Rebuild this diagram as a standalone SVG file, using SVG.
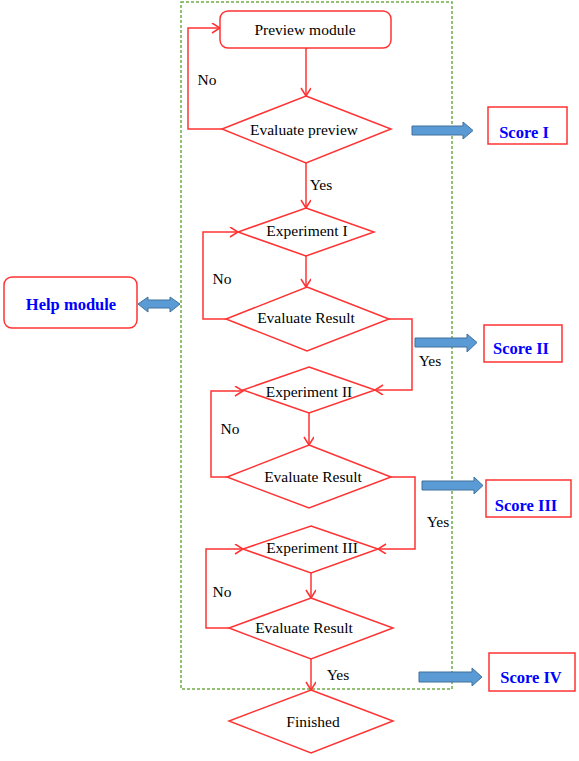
<svg xmlns="http://www.w3.org/2000/svg" width="579" height="761" viewBox="0 0 579 761">
<defs>
<style>
.n{fill:#fff;stroke:#ff3333;stroke-width:1.5}
.c{fill:none;stroke:#ff3333;stroke-width:1.5}
.t{font-family:"Liberation Serif","Times New Roman",serif;font-size:15.5px;fill:#000;text-anchor:middle}
.b{font-family:"Liberation Serif","Times New Roman",serif;font-size:16.5px;font-weight:bold;fill:#0000ff;text-anchor:middle}
.ba{fill:#5b9bd5;stroke:#41719c;stroke-width:1}
</style>
<marker id="ah" markerWidth="12" markerHeight="12" refX="9" refY="5" orient="auto" markerUnits="userSpaceOnUse">
<path d="M1,0 L9,5 L1,10" fill="none" stroke="#ff3333" stroke-width="1.5"/>
</marker>
</defs>
<rect width="579" height="761" fill="#fff"/>
<rect id="frame" x="181" y="2" width="271" height="687" fill="none" stroke="#70ad47" stroke-width="1.5" stroke-dasharray="3,2"/>

<g id="connectors">
<path class="c" d="M306,48 V96" marker-end="url(#ah)"/>
<path class="c" d="M222,129 H188 V28 H220" marker-end="url(#ah)"/>
<path class="c" d="M306,163 V208" marker-end="url(#ah)"/>
<path class="c" d="M306,256 V287" marker-end="url(#ah)"/>
<path class="c" d="M226,319 H203 V232 H238" marker-end="url(#ah)"/>
<path class="c" d="M389,319 H412 V390 H375" marker-end="url(#ah)"/>
<path class="c" d="M309,413 V445" marker-end="url(#ah)"/>
<path class="c" d="M227,477 H211 V391 H243" marker-end="url(#ah)"/>
<path class="c" d="M391,477 H415 V549 H378" marker-end="url(#ah)"/>
<path class="c" d="M311,573 V598" marker-end="url(#ah)"/>
<path class="c" d="M229,628 H206 V549 H243" marker-end="url(#ah)"/>
<path class="c" d="M311,659 V690" marker-end="url(#ah)"/>
<path class="ba" d="M138,304 L148,297 V300 H170 V297 L180,304 L170,312 V308 H148 V312 Z"/>
<path class="ba" d="M412,126 H463 V122 L473,130.5 L463,139 V135 H412 Z"/>
<path class="ba" d="M415,338 H467 V334 L477,342.5 L467,352 V347 H415 Z"/>
<path class="ba" d="M422,481 H474 V477 L483,485.5 L474,494 V490 H422 Z"/>
<path class="ba" d="M419,672 H472 V668 L482,677 L472,686 V682 H419 Z"/>
</g>

<g class="t">
<text x="207" y="85">No</text>
<text x="222" y="284">No</text>
<text x="230" y="434">No</text>
<text x="222" y="597">No</text>
<text x="321" y="190">Yes</text>
<text x="430" y="366">Yes</text>
<text x="438" y="527">Yes</text>
<text x="338" y="680">Yes</text>
</g>

<g id="preview">
<rect class="n" x="220" y="11" width="171" height="37" rx="8"/>
<text class="t" x="305" y="35">Preview module</text>
</g>
<g id="evalPreview">
<polygon class="n" points="306,96 391,129 306,163 222,129"/>
<text class="t" x="304" y="135">Evaluate preview</text>
</g>
<g id="exp1">
<polygon class="n" points="306,208 374,232 306,256 238,232"/>
<text class="t" x="307" y="236">Experiment I</text>
</g>
<g id="eval1">
<polygon class="n" points="307,287 389,319 307,351 226,319"/>
<text class="t" x="306" y="323">Evaluate Result</text>
</g>
<g id="exp2">
<polygon class="n" points="309,367 375,390 309,413 243,390"/>
<text class="t" x="309" y="397">Experiment II</text>
</g>
<g id="eval2">
<polygon class="n" points="309,445 391,477 309,508 227,477"/>
<text class="t" x="313" y="482">Evaluate Result</text>
</g>
<g id="exp3">
<polygon class="n" points="311,526 378,549 311,573 243,549"/>
<text class="t" x="312" y="553">Experiment III</text>
</g>
<g id="eval3">
<polygon class="n" points="311,598 393,628 311,659 229,628"/>
<text class="t" x="304" y="633">Evaluate Result</text>
</g>
<g id="finished">
<polygon class="n" points="311,690 393,721 311,753 229,721"/>
<text class="t" x="313" y="727">Finished</text>
</g>
<g id="help">
<rect class="n" x="4" y="277" width="133" height="51" rx="8"/>
<text class="b" x="71" y="310">Help module</text>
</g>
<g id="score1">
<rect class="n" x="488" y="107" width="79" height="37"/>
<text class="b" x="524" y="138">Score I</text>
</g>
<g id="score2">
<rect class="n" x="484" y="325" width="78" height="37"/>
<text class="b" x="521" y="354">Score II</text>
</g>
<g id="score3">
<rect class="n" x="486" y="480" width="85" height="37"/>
<text class="b" x="526" y="511">Score III</text>
</g>
<g id="score4">
<rect class="n" x="489" y="653" width="86" height="38"/>
<text class="b" x="531" y="683">Score IV</text>
</g>
</svg>
